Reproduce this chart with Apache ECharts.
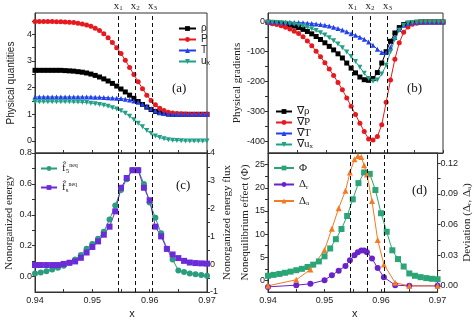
<!DOCTYPE html>
<html>
<head>
<meta charset="utf-8">
<script src="https://cdn.jsdelivr.net/npm/echarts@6/dist/echarts.min.js"></script>
<style>
html, body { margin: 0; padding: 0; background: #fff; }
#chart { width: 474px; height: 320px; }
</style>
</head>
<body>
<div id="chart"></div>
<script>
// x grid for panels (a) and (b)
var xAB = [0.94, 0.94075, 0.9415, 0.94225, 0.943, 0.94375, 0.9445, 0.94525, 0.946, 0.94675,
    0.9475, 0.94825, 0.949, 0.94975, 0.9505, 0.95125, 0.952, 0.95275, 0.9535, 0.95425,
    0.955, 0.95575, 0.9565, 0.95725, 0.958, 0.95875, 0.9595, 0.96025, 0.961, 0.96175,
    0.9625, 0.96325, 0.964, 0.96475, 0.9655, 0.96625, 0.967, 0.96775, 0.9685, 0.96925, 0.97];

// (a) physical quantities
var rho = [2.65, 2.65, 2.65, 2.65, 2.65, 2.65, 2.65, 2.64, 2.63, 2.62, 2.6, 2.58, 2.55, 2.51, 2.46,
    2.4, 2.33, 2.25, 2.16, 2.06, 1.95, 1.84, 1.72, 1.6, 1.48, 1.37, 1.27, 1.18, 1.11, 1.06, 1.03,
    1.01, 1, 1, 1, 1, 1, 1, 1, 1, 1];
var pres = [4.48, 4.48, 4.48, 4.48, 4.48, 4.47, 4.47, 4.46, 4.45, 4.44, 4.42, 4.39, 4.35, 4.3, 4.23,
    4.14, 4.02, 3.87, 3.69, 3.5, 3.28, 3.03, 2.76, 2.49, 2.22, 1.96, 1.72, 1.52, 1.36, 1.23, 1.14,
    1.08, 1.05, 1.03, 1.02, 1.01, 1, 1, 1, 1, 1];
var temp = [1.65, 1.65, 1.65, 1.65, 1.65, 1.65, 1.65, 1.65, 1.65, 1.65, 1.65, 1.65, 1.65, 1.65, 1.64,
    1.64, 1.63, 1.62, 1.61, 1.6, 1.59, 1.57, 1.54, 1.5, 1.45, 1.38, 1.3, 1.21, 1.13, 1.07, 1.03,
    1.01, 1, 1, 1, 1, 1, 1, 1, 1, 1];
var ux = [1.47, 1.47, 1.47, 1.47, 1.47, 1.47, 1.47, 1.47, 1.47, 1.46, 1.46, 1.45, 1.44, 1.42, 1.4,
    1.37, 1.34, 1.3, 1.25, 1.2, 1.13, 1.04, 0.93, 0.8, 0.67, 0.53, 0.39, 0.28, 0.19, 0.13, 0.08,
    0.05, 0.03, 0.02, 0.01, 0, 0, 0, 0, 0, 0];

// (b) gradients
var gRho = [-1, -2, -3, -5, -7, -10, -14, -19, -25, -32, -40, -49, -59, -70, -82, -94, -107, -121,
    -138, -155, -171, -185, -194, -196, -190, -170, -138, -100, -65, -37, -19, -9, -4, -2, -1,
    0, 0, 0, 0, 0, 0];
var gP = [-3, -6, -9, -13, -18, -24, -31, -39, -50, -64, -80, -98, -117, -137, -158, -180, -203,
    -228, -255, -283, -311, -340, -368, -393, -396, -385, -345, -270, -195, -125, -70, -35, -17,
    -8, -4, -2, -1, 0, 0, 0, 0];
var gT = [0, 0, 0, -1, -1, -1, -2, -2, -3, -4, -5, -7, -9, -11, -14, -18, -22, -27, -33, -40, -45,
    -51, -58, -67, -78, -92, -103, -103, -85, -52, -25, -11, -5, -2, -1, 0, 0, 0, 0, 0, 0];
var gU = [-1, -1, -2, -3, -4, -6, -8, -11, -14, -18, -23, -29, -36, -44, -53, -63, -74, -87, -101,
    -116, -133, -152, -172, -190, -199, -195, -175, -145, -100, -58, -28, -12, -5, -2, -1,
    0, 0, 0, 0, 0, 0];

// x grid for panels (c) and (d)
var xCD = [0.94, 0.941, 0.942, 0.943, 0.944, 0.945, 0.946, 0.947, 0.948, 0.949, 0.95, 0.951,
    0.952, 0.953, 0.954, 0.955, 0.956, 0.957, 0.958, 0.959, 0.96, 0.961, 0.962, 0.963, 0.964,
    0.965, 0.966, 0.967, 0.968, 0.969, 0.97];

// (c) nonorganized energy (left) and flux (right)
var f5 = [0.02, 0.027, 0.035, 0.045, 0.057, 0.07, 0.09, 0.11, 0.14, 0.18, 0.21, 0.245, 0.29, 0.37,
    0.46, 0.56, 0.63, 0.69, 0.69, 0.6, 0.48, 0.38, 0.28, 0.18, 0.11, 0.04, 0.03, 0.02, 0.015,
    0.01, 0.005];
var fs = [-0.03, -0.03, -0.03, -0.03, -0.03, 0.01, 0.05, 0.1, 0.23, 0.42, 0.62, 0.82, 1.06, 1.35,
    1.9, 2.75, 3.1, 3.38, 3.38, 2.75, 2.3, 1.35, 1.0, 0.55, 0.35, 0.22, 0.12, 0.06, 0.04, 0.03, 0.02];

// (d) nonequilibrium effect (left) and deviations (right)
var phi = [1.0, 1.2, 1.4, 1.65, 1.9, 2.2, 2.5, 2.9, 3.4, 4.1, 5.2, 6.9, 8.9, 11.1, 13.9, 17.5, 21.0,
    23.3, 23.0, 19.5, 14.5, 10.5, 6.5, 4.6, 3.0, 1.5, 1.0, 0.7, 0.5, 0.35, 0.25];
var xDelta = [0.94, 0.945, 0.9475, 0.95, 0.9513, 0.9525, 0.9537, 0.9545, 0.9553, 0.9559, 0.9565,
    0.957, 0.9575, 0.9584, 0.9594, 0.9605, 0.9625, 0.965, 0.97];
var deltaR = [-0.001, 0.0007, 0.002, 0.0055, 0.0105, 0.0148, 0.0195, 0.025, 0.03, 0.033, 0.0345,
    0.0345, 0.033, 0.0267, 0.0175, 0.0085, 0.0007, 0, 0];
var deltaA = [0, 0.006, 0.016, 0.035, 0.056, 0.076, 0.093, 0.111, 0.124, 0.127, 0.126, 0.118,
    0.109, 0.083, 0.045, 0.021, 0.003, 0, 0];

// dashed positions x1, x2, x3
var dashX = [0.9545, 0.9575, 0.9605];
var dashNames = ['1', '2', '3'];

// tick labels
var xLabels = [0.94, 0.95, 0.96, 0.97];
var xTicks = [0.94, 0.945, 0.95, 0.955, 0.96, 0.965, 0.97];
var aLabels = [0, 1, 2, 3, 4];
var aTicks = [0, 0.5, 1, 1.5, 2, 2.5, 3, 3.5, 4, 4.5];
var bLabels = [-400, -300, -200, -100, 0];
var bTicks = [-400, -350, -300, -250, -200, -150, -100, -50, 0];
var cLeftLabels = [0, 0.2, 0.4, 0.6, 0.8];
var cLeftTicks = [0, 0.1, 0.2, 0.3, 0.4, 0.5, 0.6, 0.7, 0.8];
var cRightLabels = [-1, 0, 1, 2, 3, 4];
var cRightTicks = [-1, -0.5, 0, 0.5, 1, 1.5, 2, 2.5, 3, 3.5, 4];
var dLeftLabels = [0, 5, 10, 15, 20, 25];
var dLeftTicks = [0, 2.5, 5, 7.5, 10, 12.5, 15, 17.5, 20, 22.5, 25];
var dRightLabels = [0, 0.03, 0.06, 0.09, 0.12];
var dRightTicks = [0, 0.015, 0.03, 0.045, 0.06, 0.075, 0.09, 0.105, 0.12];

var SANS = '"Liberation Sans", Arial, sans-serif';
var SERIF = '"Liberation Serif", "Times New Roman", serif';
var INK = '#222';

function zip(xs, ys) {
    return xs.map(function (x, i) { return [x, ys[i]]; });
}

var subRich = {
    n: { fontFamily: SERIF, fontSize: 11, color: INK },
    s: { fontFamily: SERIF, fontSize: 7, color: INK, verticalAlign: 'bottom', padding: [4, 0, 0, 0] },
    p: { fontFamily: SERIF, fontSize: 6, color: INK, verticalAlign: 'top', padding: [0, 0, 5, 0] },
    ns: { fontFamily: SANS, fontSize: 10, color: INK },
    ss: { fontFamily: SANS, fontSize: 7, color: INK, verticalAlign: 'bottom', padding: [4, 0, 0, 0] }
};

var legendText = {
    'ρ': '{ns|ρ}', 'P': '{ns|P}', 'T': '{ns|T}', 'ux': '{ns|u}{ss|x}',
    '∇ρ': '{n|∇ρ}', '∇P': '{n|∇P}', '∇T': '{n|∇T}', '∇ux': '{n|∇u}{s|x}',
    'f5': '{n|f\u0302}{s|5}{p|neq}', 'fs': '{n|f\u0302}{s|s}{p|neq}',
    'Φ': '{n|Φ}', 'Δr': '{n|Δ}{s|r}', 'Δa': '{n|Δ}{s|a}'
};

function markLines(withLabel) {
    return {
        silent: true,
        precision: 5,
        symbol: ['none', 'none'],
        lineStyle: { type: [4, 3], color: '#111', width: 1 },
        label: { show: false },
        data: dashX.map(function (v, i) {
            return {
                xAxis: v,
                label: {
                    show: withLabel,
                    position: 'end',
                    distance: 1,
                    formatter: '{m|x}{s|' + dashNames[i] + '}',
                    rich: {
                        m: { fontFamily: SERIF, fontSize: 11, color: INK },
                        s: { fontFamily: SERIF, fontSize: 7, color: INK, verticalAlign: 'bottom', padding: [4, 0, 0, 0] }
                    }
                }
            };
        })
    };
}

function xAxis(g, showLabels, namePad) {
    return {
        type: 'value', gridIndex: g, min: 0.94, max: 0.97,
        axisLine: { show: true, onZero: false, lineStyle: { color: '#333', width: 1 } },
        splitLine: { show: false },
        axisTick: { show: true, inside: true, length: 3, customValues: xTicks, lineStyle: { color: '#333' } },
        axisLabel: {
            show: showLabels, customValues: xLabels, fontFamily: SANS, fontSize: 9, color: INK, margin: 4,
            formatter: function (v) { return v.toFixed(2); }
        },
        name: showLabels ? 'x' : '',
        nameLocation: 'middle', nameGap: 16,
        nameTextStyle: { fontFamily: SANS, fontSize: 11, color: INK, padding: [0, 0, 0, namePad || 0] }
    };
}

function yAxis(g, pos, min, max, labels, ticks, digits, name, nameGap, nameStyle) {
    return {
        type: 'value', gridIndex: g, position: pos, min: min, max: max,
        axisLine: { show: true, onZero: false, lineStyle: { color: '#333', width: 1 } },
        splitLine: { show: false },
        axisTick: { show: true, inside: false, length: 3, customValues: ticks, lineStyle: { color: '#333' } },
        axisLabel: {
            customValues: labels, fontFamily: SANS, fontSize: 9, color: INK, margin: 3,
            formatter: function (v) { return v.toFixed(digits); }
        },
        name: name, nameLocation: 'middle', nameGap: nameGap,
        nameTextStyle: nameStyle
    };
}

function line(name, xs, ys, xi, yi, color, symbol, extra) {
    var s = {
        name: name, type: 'line', xAxisIndex: xi, yAxisIndex: yi,
        data: zip(xs, ys),
        symbol: symbol, symbolSize: 5, showAllSymbol: true,
        lineStyle: { color: color, width: 1 },
        itemStyle: { color: color },
        z: 3
    };
    for (var k in extra) s[k] = extra[k];
    return s;
}

var myChart = echarts.init(document.getElementById('chart'), null, { renderer: 'canvas' });

var gridStyle = { show: true, borderColor: '#333', borderWidth: 1, backgroundColor: 'transparent' };

var option = {
    animation: false,
    backgroundColor: '#fff',
    grid: [
        Object.assign({ left: 35, top: 13, width: 172, height: 140 }, gridStyle),
        Object.assign({ left: 268, top: 13, width: 175, height: 140 }, gridStyle),
        Object.assign({ left: 35, top: 153, width: 172, height: 139 }, gridStyle),
        Object.assign({ left: 268, top: 153, width: 175, height: 139 }, gridStyle)
    ],
    xAxis: [xAxis(0, false), xAxis(1, false), xAxis(2, true, 22), xAxis(3, true, 4)],
    yAxis: [
        yAxis(0, 'left', -0.45, 4.8, aLabels, aTicks, 0, 'Physical quantities', 19,
            { fontFamily: SANS, fontSize: 10, color: INK }),
        yAxis(1, 'left', -440, 30, bLabels, bTicks, 0, 'Physical gradients', 23,
            { fontFamily: SERIF, fontSize: 11, color: INK }),
        yAxis(2, 'left', -0.1, 0.8, cLeftLabels, cLeftTicks, 1, 'Nonorganized energy', 20,
            { fontFamily: SERIF, fontSize: 11, color: INK }),
        yAxis(2, 'right', -1, 4, cRightLabels, cRightTicks, 0, 'Nonorganized energy flux', 14,
            { fontFamily: SERIF, fontSize: 11, color: INK }),
        yAxis(3, 'left', -2.5, 27.5, dLeftLabels, dLeftTicks, 0, 'Nonequilibrium effect (Φ)', 16,
            { fontFamily: SERIF, fontSize: 11, color: INK }),
        yAxis(3, 'right', -0.006, 0.13, dRightLabels, dRightTicks, 2,
            '{n|Deviation (Δ}{s|r}{n|, Δ}{s|a}{n|)}', 24,
            { rich: subRich })
    ],
    legend: [
        {
            data: ['ρ', 'P', 'T', 'ux'], orient: 'vertical', left: 173, top: 18,
            itemWidth: 17, itemHeight: 6, itemGap: 0,
            textStyle: { fontSize: 10, lineHeight: 11, rich: subRich },
            formatter: function (n) { return legendText[n]; }
        },
        {
            data: ['∇ρ', '∇P', '∇T', '∇ux'], orient: 'vertical', left: 270, top: 101,
            itemWidth: 16, itemHeight: 6, itemGap: 0,
            textStyle: { fontSize: 10, lineHeight: 10.3, rich: subRich },
            formatter: function (n) { return legendText[n]; }
        },
        {
            data: ['f5', 'fs'], orient: 'vertical', left: 35, top: 157,
            itemWidth: 16, itemHeight: 6, itemGap: 6,
            textStyle: { fontSize: 10, lineHeight: 13, rich: subRich },
            formatter: function (n) { return legendText[n]; }
        },
        {
            data: ['Φ', 'Δr', 'Δa'], orient: 'vertical', left: 268, top: 157,
            itemWidth: 20, itemHeight: 6, itemGap: 4.5,
            textStyle: { fontSize: 10, lineHeight: 12, rich: subRich },
            formatter: function (n) { return legendText[n]; }
        }
    ],
    graphic: [
        { type: 'text', left: 172, top: 82, style: { text: '(a)', font: '13px ' + SERIF, fill: '#111' } },
        { type: 'text', left: 407, top: 82, style: { text: '(b)', font: '13px ' + SERIF, fill: '#111' } },
        { type: 'text', left: 176, top: 179, style: { text: '(c)', font: '13px ' + SERIF, fill: '#111' } },
        { type: 'text', left: 412, top: 184, style: { text: '(d)', font: '13px ' + SERIF, fill: '#111' } }
    ],
    series: [
        line('ρ', xAB, rho, 0, 0, '#000000', 'rect', { markLine: markLines(true) }),
        line('P', xAB, pres, 0, 0, '#e8191e', 'circle'),
        line('T', xAB, temp, 0, 0, '#2040f0', 'triangle'),
        line('ux', xAB, ux, 0, 0, '#21a088', 'triangle', { symbolRotate: 180 }),

        line('∇ρ', xAB, gRho, 1, 1, '#000000', 'rect', { markLine: markLines(true) }),
        line('∇P', xAB, gP, 1, 1, '#e8191e', 'circle'),
        line('∇T', xAB, gT, 1, 1, '#2040f0', 'triangle'),
        line('∇ux', xAB, gU, 1, 1, '#21a088', 'triangle', { symbolRotate: 180 }),

        line('f5', xCD, f5, 2, 2, '#2a9d7e', 'circle', { symbolSize: 6, markLine: markLines(false) }),
        line('fs', xCD, fs, 2, 3, '#6c2bd9', 'rect', { symbolSize: 6 }),

        line('Φ', xCD, phi, 3, 4, '#2aa575', 'rect', { symbolSize: 6, markLine: markLines(false) }),
        line('Δr', xDelta, deltaR, 3, 5, '#6a22cc', 'circle', { symbolSize: 6 }),
        line('Δa', xDelta, deltaA, 3, 5, '#f57a22', 'triangle', { symbolSize: 6 })
    ]
};

myChart.setOption(option);
</script>
</body>
</html>
